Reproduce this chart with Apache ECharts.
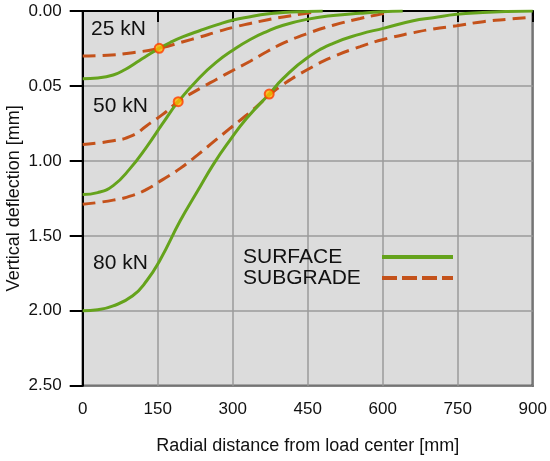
<!DOCTYPE html>
<html>
<head>
<meta charset="utf-8">
<script src="https://cdn.jsdelivr.net/npm/echarts@6/dist/echarts.min.js"></script>
<style>
html,body{margin:0;padding:0;background:#fff;}
#chart{width:550px;height:461px;}
</style>
</head>
<body>
<div id="chart"></div>
<script>
// ---- data ----
var xTicks = [0, 150, 300, 450, 600, 750, 900];
var yTickLabels = ['0.00', '0.05', '1.00', '1.50', '2.00', '2.50'];

var surface25 = [[0,0.452],[30,0.447],[61,0.427],[85,0.39],[108,0.342],[130,0.295],[153,0.249],[175,0.21],[201,0.171],[235,0.13],[268,0.093],[301,0.06],[335,0.038],[368,0.02],[401,0.01],[448,0.003],[480,0]];
var subgrade25 = [[0,0.30],[50,0.295],[100,0.278],[153,0.249],[201,0.205],[235,0.173],[268,0.14],[301,0.109],[335,0.083],[368,0.06],[401,0.04],[448,0.015],[470,0.003]];
var surface50 = [[0,1.225],[30,1.212],[61,1.165],[95,1.05],[128,0.906],[160,0.75],[191,0.605],[235,0.44],[268,0.34],[301,0.26],[335,0.19],[368,0.137],[401,0.095],[448,0.056],[501,0.03],[555,0.015],[600,0.005],[640,0]];
var subgrade50 = [[0,0.89],[61,0.866],[100,0.83],[128,0.765],[160,0.69],[191,0.605],[235,0.516],[268,0.455],[301,0.395],[335,0.335],[368,0.272],[401,0.215],[448,0.152],[501,0.095],[555,0.05],[590,0.025],[612,0.012]];
var surface80 = [[0,2.0],[30,1.993],[61,1.968],[100,1.9],[128,1.8],[155,1.66],[195,1.4],[230,1.2],[262,1.02],[295,0.86],[328,0.716],[373,0.554],[401,0.45],[448,0.315],[501,0.216],[555,0.154],[601,0.116],[661,0.065],[701,0.045],[748,0.022],[800,0.01],[850,0.003],[900,0]];
var subgrade80 = [[0,1.29],[61,1.262],[100,1.23],[128,1.19],[160,1.125],[195,1.05],[230,0.96],[262,0.872],[295,0.782],[328,0.694],[355,0.616],[373,0.56],[401,0.49],[448,0.394],[501,0.305],[555,0.238],[601,0.19],[661,0.145],[701,0.12],[748,0.098],[801,0.071],[850,0.055],[900,0.042]];
var intersections = [[153,0.249],[191,0.605],[373,0.554]];
var loadLabels = ['25 kN', '50 kN', '80 kN'];

// ---- style ----
var FONT = 'Liberation Sans, Arial, sans-serif';
var GREEN = '#65a31c';
var ORANGE = '#c4521b';

function surf(d){ return {name:'SURFACE', type:'line', data:d, symbol:'none', smooth:0.5, lineStyle:{color:GREEN, width:3}, itemStyle:{color:GREEN}, z:3}; }
function sub(d){ return {name:'SUBGRADE', type:'line', data:d, symbol:'none', smooth:0.5, lineStyle:{color:ORANGE, width:3, type:[13,7]}, itemStyle:{color:ORANGE}, z:2}; }

var chart = echarts.init(document.getElementById('chart'));
var option = {
  animation:false,
  backgroundColor:'#fff',
  textStyle:{fontFamily:FONT},
  grid:{left:82.7, right:17.3, top:11, bottom:75.3, outerBoundsMode:'none', containLabel:false, show:true, backgroundColor:'#dcdcdc', borderColor:'#000', borderWidth:2},
  legend:{
    orient:'vertical', left:238, top:241.5, align:'right', itemGap:0,
    itemWidth:71, itemHeight:14,
    itemStyle:{color:'rgba(0,0,0,0)', borderColor:'rgba(0,0,0,0)', borderWidth:0, opacity:0},
    data:[
      {name:'SURFACE', lineStyle:{width:4}},
      {name:'SUBGRADE', lineStyle:{width:4, type:[15,5]}}
    ],
    formatter:function(n){ return '{n|' + n + '}'; },
    textStyle:{fontFamily:FONT, fontSize:21, color:'#111', rich:{n:{width:134, align:'left', fontSize:21, lineHeight:27, fontFamily:FONT, color:'#111'}}}
  },
  xAxis:{
    type:'value', min:0, max:900, interval:150,
    name:'Radial distance from load center [mm]', nameLocation:'middle', nameGap:51, nameMoveOverlap:false,
    nameTextStyle:{fontSize:18, color:'#111', fontFamily:FONT},
    axisLine:{lineStyle:{color:'#000', width:2}},
    axisTick:{show:true, length:11, lineStyle:{color:'#000', width:2}},
    axisLabel:{fontSize:17, color:'#111', margin:15, fontFamily:FONT},
    splitLine:{show:true, lineStyle:{color:'#9b9b9b', width:1.5}}
  },
  yAxis:{
    type:'value', min:0, max:2.5, interval:0.5, inverse:true,
    name:'Vertical deflection [mm]', nameLocation:'middle', nameGap:60, nameMoveOverlap:false,
    nameTextStyle:{fontSize:18, color:'#111', fontFamily:FONT},
    axisLine:{lineStyle:{color:'#000', width:2}},
    axisTick:{show:true, length:13, lineStyle:{color:'#000', width:2}},
    axisLabel:{fontSize:17, color:'#111', margin:21, fontFamily:FONT,
      formatter:function(v){ return yTickLabels[Math.round(v/0.5)]; }},
    splitLine:{show:true, lineStyle:{color:'#9b9b9b', width:1.5}}
  },
  series:[
    sub(subgrade25), sub(subgrade50), sub(subgrade80),
    surf(surface25), surf(surface50), surf(surface80),
    {name:'points', type:'scatter', data:intersections, symbol:'circle', symbolSize:9,
     itemStyle:{color:'#ffb700', borderColor:'#ff3d00', borderWidth:2}, z:5}
  ],
  graphic:[
    {type:'text', left:91, top:19, style:{text:loadLabels[0], font:'21px ' + FONT, fill:'#111'}},
    {type:'text', left:93, top:96, style:{text:loadLabels[1], font:'21px ' + FONT, fill:'#111'}},
    {type:'text', left:93, top:253, style:{text:loadLabels[2], font:'21px ' + FONT, fill:'#111'}}
  ]
};
chart.setOption(option);
</script>
</body>
</html>
